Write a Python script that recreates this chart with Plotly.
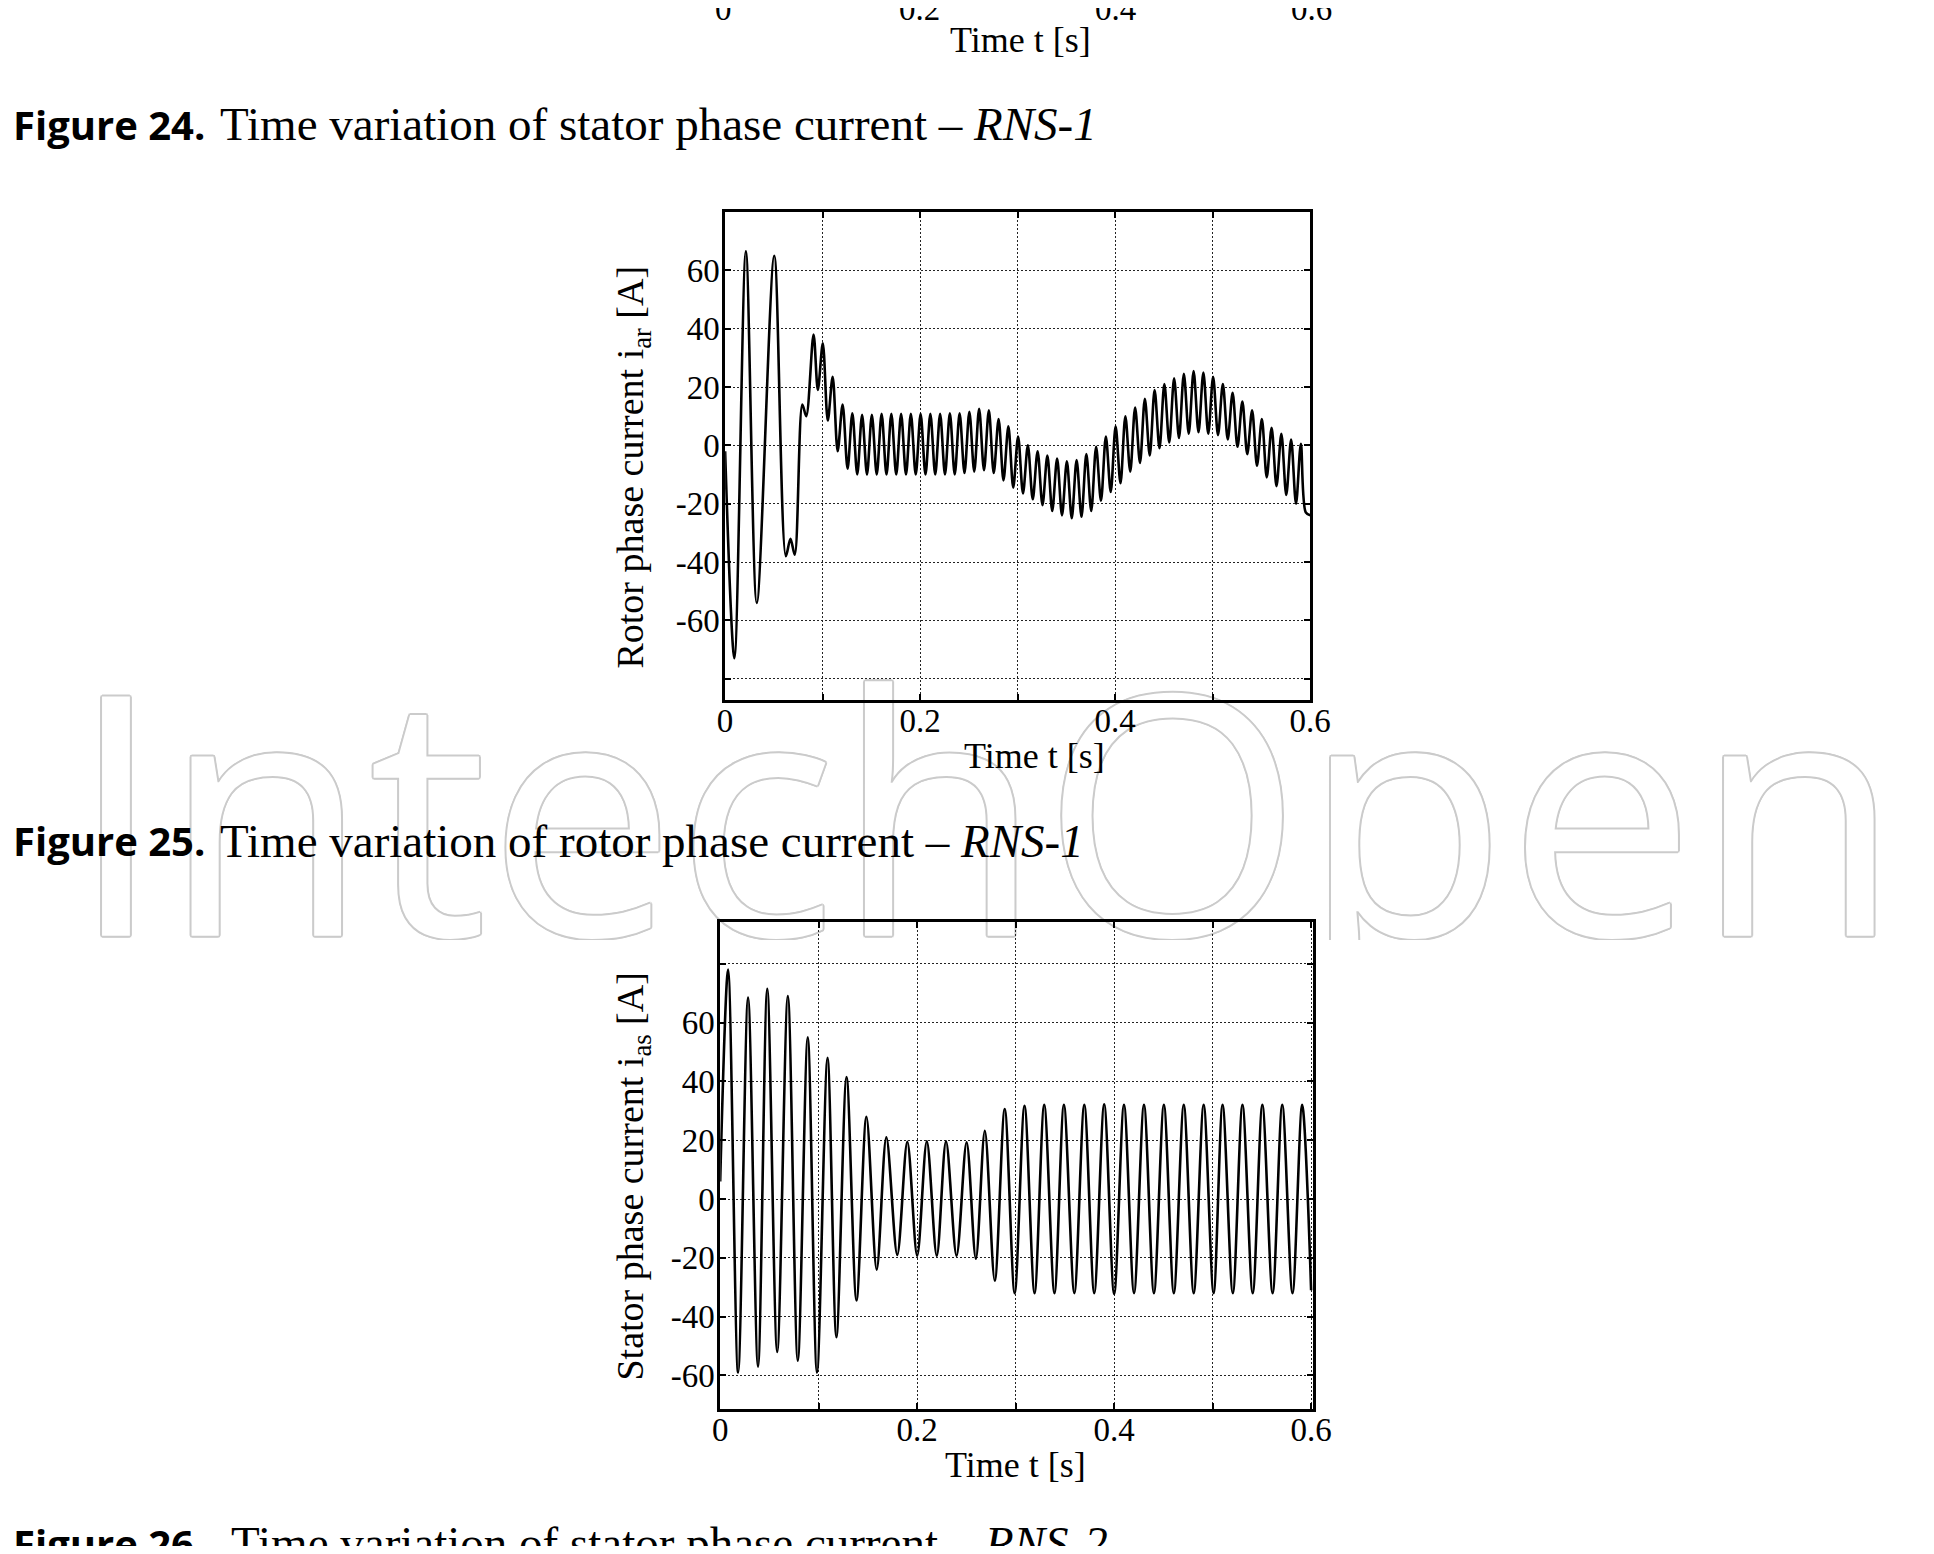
import plotly.graph_objects as go

# the page is 1934x1554, the html body adds an 8px margin
W, H = 1918, 1538
OFF = 8


def fx(px):
    return (px - OFF) / W


def fy(px):
    return 1 - (px - OFF) / H


SERIF = "Liberation Serif"
SANS = "Open Sans"

# ---- Figure 25: rotor phase current i_ar, RNS-1 ----
# start-up transient (extrema)
rotor_start_t = [0.0, 0.0095, 0.0213, 0.0325, 0.0504, 0.0623, 0.067, 0.0714, 0.0792,
                 0.0832, 0.0907, 0.0951, 0.1002, 0.1053, 0.1103, 0.1154, 0.1205, 0.1256]
rotor_start_i = [-2, -73, 66.5, -54, 65, -38, -32, -37.5, 14,
                 10, 38, 19, 35, 8.5, 23.5, -2, 14, -8]
# 100 Hz ripple afterwards: top and bottom of every cycle
rotor_peak_t = [0.1305, 0.1405, 0.1505, 0.1605, 0.1705, 0.1805, 0.1905, 0.2005, 0.2105, 0.2205,
                0.2305, 0.2405, 0.2505, 0.2605, 0.2705, 0.2805, 0.2905, 0.3005, 0.3105, 0.3205,
                0.3305, 0.3405, 0.3505, 0.3605, 0.3705, 0.3805, 0.3905, 0.4005, 0.4105, 0.4205,
                0.4305, 0.4405, 0.4505, 0.4605, 0.4705, 0.4805, 0.4905, 0.5005, 0.5105, 0.5205,
                0.5305, 0.5405, 0.5505, 0.5605, 0.5705, 0.5805, 0.5905]
rotor_peak_i = [11, 10.5, 10.5, 10.8, 10.8, 10.8, 10.8, 10.8, 10.8, 10.8,
                11, 11, 11.5, 12.5, 12, 9, 6.5, 3, 0, -2,
                -3.5, -4.5, -5.5, -5, -3, -0.5, 3, 6.5, 10, 13,
                16, 19, 21, 23, 24.5, 25.5, 25, 23.5, 21, 18,
                15, 12, 9, 6, 4, 2, 0.5]
rotor_trough_t = [0.1355, 0.1455, 0.1555, 0.1655, 0.1755, 0.1855, 0.1955, 0.2055, 0.2155, 0.2255,
                  0.2355, 0.2455, 0.2555, 0.2655, 0.2755, 0.2855, 0.2955, 0.3055, 0.3155, 0.3255,
                  0.3355, 0.3455, 0.3555, 0.3655, 0.3755, 0.3855, 0.3955, 0.4055, 0.4155, 0.4255,
                  0.4355, 0.4455, 0.4555, 0.4655, 0.4755, 0.4855, 0.4955, 0.5055, 0.5155, 0.5255,
                  0.5355, 0.5455, 0.5555, 0.5655, 0.5755, 0.5855, 0.5955]
rotor_trough_i = [-10, -10, -10, -10, -10, -10, -10, -10, -10, -10,
                  -10, -9.5, -9, -8.5, -9.5, -12, -14.5, -16.5, -18.5, -20.5,
                  -22.5, -24, -25, -24.5, -22.5, -19, -16, -13, -9, -6,
                  -3.5, -1, 1, 2.5, 4, 4.5, 4, 3.5, 2, -0.5,
                  -3, -7, -11, -14, -17, -20, -23]
rotor_end_t = [0.6]
rotor_end_i = [-24]

# ---- Figure 26: stator phase current i_as, RNS-2 ----
stator_t = [0.0, 0.008, 0.0182, 0.0283, 0.0384, 0.0478, 0.0579, 0.0687, 0.0788, 0.0889,
            0.0983, 0.109, 0.118, 0.1283, 0.1384, 0.1485, 0.1589, 0.1687, 0.1798, 0.19,
            0.2, 0.2098, 0.2199, 0.2293, 0.24, 0.2502, 0.2596, 0.2687, 0.2788, 0.2889,
            0.299, 0.309, 0.3192, 0.329, 0.3394, 0.349, 0.3596, 0.3697, 0.3798, 0.3899,
            0.4, 0.41, 0.4202, 0.4303, 0.4404, 0.4505, 0.4606, 0.4707, 0.4808, 0.4909,
            0.501, 0.5101, 0.5205, 0.5303, 0.5407, 0.5505, 0.5609, 0.5707, 0.5811, 0.5909,
            0.6]
stator_i = [6, 78, -59, 68.5, -57, 71.5, -52, 69, -55, 55,
            -59, 48, -47, 41.5, -34.5, 28, -24, 21, -19, 19.5,
            -19.3, 19.6, -19.3, 19.6, -19.3, 19.3, -20.3, 23.2, -27.8, 30.6,
            -32, 31.7, -32, 32, -32, 32, -32, 32, -32, 32.2,
            -32.3, 32, -32, 32, -32, 32, -32, 32, -32, 32,
            -32, 32, -32, 32, -32, 32, -32, 32, -32, 32,
            -31]

x_ticks = [0, 0.1, 0.2, 0.3, 0.4, 0.5, 0.6]
x_labels = ["0", "", "0.2", "", "0.4", "", "0.6"]
y_ticks = [-80, -60, -40, -20, 0, 20, 40, 60, 80]
y_labels = ["", "-60", "-40", "-20", "0", "20", "40", "60", ""]

# interleave rotor cycle tops and bottoms
rotor_t = list(rotor_start_t)
rotor_i = list(rotor_start_i)
for pt, pi, tt, ti in zip(rotor_peak_t, rotor_peak_i, rotor_trough_t, rotor_trough_i):
    rotor_t += [pt, tt]
    rotor_i += [pi, ti]
rotor_t += rotor_end_t
rotor_i += rotor_end_i

fig = go.Figure()

# watermark, drawn in a hidden subplot under the two charts
halo = "#cbcbcb"
shadow = ", ".join("%gpx %gpx 0 %s" % (dx, dy, halo) for dx, dy in
                   [(2, 0), (-2, 0), (0, 2), (0, -2), (1.4, 1.4), (1.4, -1.4), (-1.4, 1.4), (-1.4, -1.4)])
fig.add_trace(go.Scatter(x=[992], y=[852], mode="text", text=["IntechOpen"],
                         textposition="middle center", cliponaxis=True, hoverinfo="skip",
                         textfont=dict(family=SANS, size=335, color="white", shadow=shadow),
                         xaxis="x", yaxis="y", showlegend=False))

fig.add_trace(go.Scatter(x=rotor_t, y=rotor_i, mode="lines", xaxis="x2", yaxis="y2",
                         line=dict(color="black", width=2.6, shape="spline", smoothing=0.9),
                         showlegend=False))
fig.add_trace(go.Scatter(x=stator_t, y=stator_i, mode="lines", xaxis="x3", yaxis="y3",
                         line=dict(color="black", width=2.6, shape="spline", smoothing=0.9),
                         showlegend=False))

axis_style = dict(showline=True, linecolor="black", linewidth=2.5, mirror="ticks",
                  ticks="inside", ticklen=6, tickwidth=1.5, tickcolor="black",
                  showgrid=True, gridcolor="#222222", gridwidth=1, griddash="2px,2px",
                  zeroline=False, tickfont=dict(family=SERIF, size=33, color="black"))

fig.update_layout(
    width=W, height=H, autosize=False,
    margin=dict(l=0, r=0, t=0, b=0),
    paper_bgcolor="white", plot_bgcolor="rgba(0,0,0,0)",
    xaxis=dict(domain=[fx(60), fx(1920)], range=[60, 1920], visible=False, fixedrange=True),
    yaxis=dict(domain=[fy(940), fy(600)], range=[940, 600], visible=False, fixedrange=True),
    xaxis2=dict(domain=[fx(728), fx(1322)], range=[0, 0.6], anchor="y2",
                tickvals=x_ticks, ticktext=x_labels, ticklabelstandoff=-10, **axis_style),
    yaxis2=dict(domain=[fy(700), fy(212)], range=[-87.3, 80], anchor="x2",
                tickvals=y_ticks, ticktext=y_labels, ticklabelstandoff=-4, **axis_style),
    xaxis3=dict(domain=[fx(723), fx(1325)], range=[0, 0.602], anchor="y3",
                tickvals=x_ticks, ticktext=x_labels, ticklabelstandoff=-10, **axis_style),
    yaxis3=dict(domain=[fy(1409), fy(922)], range=[-71.4, 94.2], anchor="x3",
                tickvals=y_ticks, ticktext=y_labels, ticklabelstandoff=-4, **axis_style),
)


def note(text, x, y, size, family=SERIF, xanchor="center", angle=0):
    return dict(text=text, x=fx(x), y=fy(y), xref="paper", yref="paper",
                showarrow=False, xanchor=xanchor, yanchor="middle", textangle=angle,
                font=dict(family=family, size=size, color="black"))


notes = [
    # tail of the previous figure at the top of the page
    note("0", 726, 9, 33), note("0.2", 925, 9, 33), note("0.4", 1124, 9, 33), note("0.6", 1323, 9, 33),
    note("Time t [s]", 1028, 40, 36),
    note("<b>Figure 24.</b>", 3, 124, 40, SANS, "left"),
    note("Time variation of stator phase current – <i>RNS-1</i>", 213, 124, 47, SERIF, "left"),
    # figure 25
    note("Rotor phase current i<sub>ar</sub> [A]", 634, 467, 38, angle=-90),
    note("Time t [s]", 1042, 756, 36),
    note("<b>Figure 25.</b>", 3, 841, 40, SANS, "left"),
    note("Time variation of rotor phase current – <i>RNS-1</i>", 213, 841, 47, SERIF, "left"),
    # figure 26
    note("Stator phase current i<sub>as</sub> [A]", 634, 1177, 38, angle=-90),
    note("Time t [s]", 1023, 1465, 36),
    note("<b>Figure 26.</b>", 3, 1543, 40, SANS, "left"),
    note("Time variation of stator phase current – <i>RNS-2</i>", 224, 1543, 47, SERIF, "left"),
]
fig.update_layout(annotations=notes)

fig.write_html("out.html")
